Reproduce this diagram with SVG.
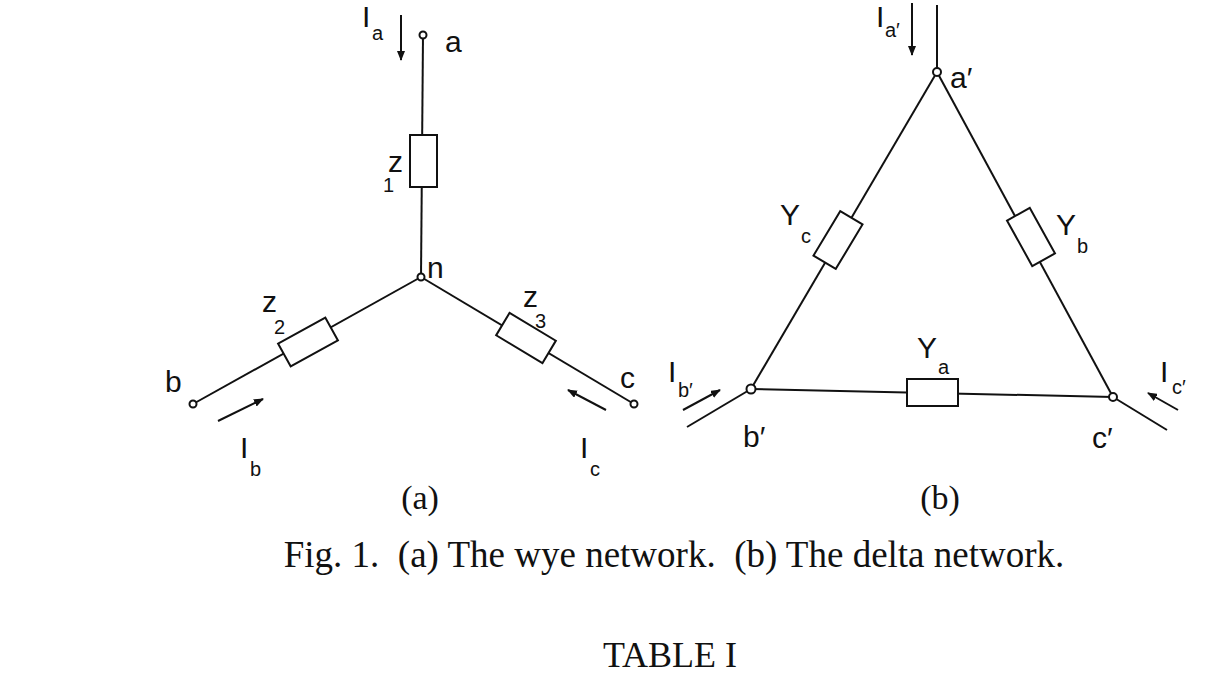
<svg xmlns="http://www.w3.org/2000/svg" width="1231" height="677" viewBox="0 0 1231 677">
<style>
.w{stroke:#111;stroke-width:2;fill:none}
.r{stroke:#111;stroke-width:2;fill:#fff}
.t{stroke:#111;stroke-width:2;fill:#fff}
.l{font-family:"Liberation Sans",Arial,sans-serif;font-size:30px;fill:#111}
.s{font-family:"Liberation Sans",Arial,sans-serif;font-size:20px;fill:#111}
.c{font-family:"Liberation Serif","Times New Roman",serif;font-size:34px;fill:#111}
</style>
<defs><marker id="ar" markerWidth="10" markerHeight="8" refX="9" refY="4" orient="auto" markerUnits="userSpaceOnUse"><path d="M0,0L10,4L0,8z" fill="#111"/></marker></defs>
<rect width="1231" height="677" fill="#fff"/>
<g id="connectors">
<line class="w" x1="423" y1="35" x2="421" y2="277"/>
<line class="w" x1="421" y1="277" x2="193" y2="404"/>
<line class="w" x1="421" y1="277" x2="634" y2="404"/>
<line class="w" x1="937" y1="72" x2="937" y2="5"/>
<line class="w" x1="937" y1="72" x2="751" y2="389"/>
<line class="w" x1="937" y1="72" x2="1113" y2="397"/>
<line class="w" x1="751" y1="389" x2="1113" y2="397"/>
<line class="w" x1="751" y1="389" x2="687" y2="427"/>
<line class="w" x1="1113" y1="397" x2="1167" y2="430"/>
<line class="w" x1="401" y1="15" x2="401" y2="60" marker-end="url(#ar)"/>
<line class="w" x1="218" y1="421" x2="263" y2="399" marker-end="url(#ar)"/>
<line class="w" x1="606" y1="410" x2="568" y2="390" marker-end="url(#ar)"/>
<line class="w" x1="912" y1="3" x2="912" y2="55" marker-end="url(#ar)"/>
<line class="w" x1="683" y1="410" x2="720" y2="390" marker-end="url(#ar)"/>
<line class="w" x1="1178" y1="410" x2="1148" y2="393" marker-end="url(#ar)"/>
</g>
<g id="Z1"><rect class="r" x="410" y="135" width="27" height="52"/><text class="l" x="388" y="172">z</text><text class="s" x="383" y="192">1</text></g>
<g id="Z2"><rect class="r" x="-27" y="-13" width="54" height="26" transform="translate(308,342) rotate(-29)"/><text class="l" x="262" y="312">z</text><text class="s" x="274" y="334">2</text></g>
<g id="Z3"><rect class="r" x="-27" y="-13" width="54" height="26" transform="translate(526,338) rotate(31)"/><text class="l" x="523" y="307">z</text><text class="s" x="535" y="328">3</text></g>
<g id="a"><circle class="t" cx="423" cy="35" r="3.5"/><text class="l" x="445" y="52">a</text><text class="l" x="362" y="27">I</text><text class="s" x="372" y="40">a</text></g>
<g id="n"><circle class="t" cx="421" cy="277" r="3.5"/><text class="l" x="427" y="278">n</text></g>
<g id="b"><circle class="t" cx="193" cy="404" r="3.5"/><text class="l" x="165" y="392">b</text><text class="l" x="240" y="458">I</text><text class="s" x="250" y="476">b</text></g>
<g id="c"><circle class="t" cx="634" cy="404" r="3.5"/><text class="l" x="620" y="388">c</text><text class="l" x="580" y="458">I</text><text class="s" x="590" y="476">c</text></g>
<g id="Ya"><rect class="r" x="907" y="379" width="51" height="27"/><text class="l" x="917" y="358">Y</text><text class="s" x="938" y="374">a</text></g>
<g id="Yb"><rect class="r" x="-26" y="-13" width="52" height="26" transform="translate(1031,237) rotate(61)"/><text class="l" x="1056" y="235">Y</text><text class="s" x="1077" y="253">b</text></g>
<g id="Yc"><rect class="r" x="-26" y="-13" width="52" height="26" transform="translate(838,240) rotate(-59)"/><text class="l" x="780" y="225">Y</text><text class="s" x="801" y="243">c</text></g>
<g id="a2"><circle class="t" cx="937" cy="72" r="4"/><text class="l" x="950" y="88">a′</text><text class="l" x="876" y="27">I</text><text class="s" x="885" y="37">a′</text></g>
<g id="b2"><circle class="t" cx="751" cy="389" r="4.5"/><text class="l" x="743" y="447">b′</text><text class="l" x="668" y="382">I</text><text class="s" x="678" y="397">b′</text></g>
<g id="c2"><circle class="t" cx="1113" cy="397" r="4"/><text class="l" x="1092" y="448">c′</text><text class="l" x="1160" y="382">I</text><text class="s" x="1172" y="394">c′</text></g>
<text class="c" x="420" y="509" text-anchor="middle">(a)</text>
<text class="c" x="940" y="509" text-anchor="middle">(b)</text>
<text class="c" x="674" y="567" text-anchor="middle" style="font-size:37px" xml:space="preserve">Fig. 1.  (a) The wye network.  (b) The delta network.</text>
<text class="c" x="670" y="667" text-anchor="middle" style="font-size:36px">TABLE I</text>
</svg>
